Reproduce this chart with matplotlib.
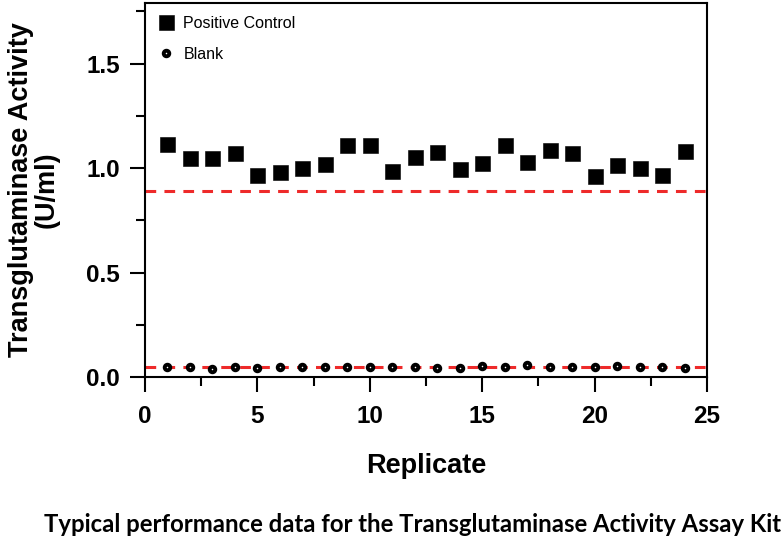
import matplotlib
matplotlib.use("Agg")
import matplotlib.pyplot as plt
from matplotlib.ticker import MultipleLocator

replicates = list(range(1, 25))
positive_control = [1.113, 1.047, 1.050, 1.071, 0.965, 0.983, 1.002, 1.020,
                    1.111, 1.111, 0.985, 1.052, 1.077, 0.994, 1.024, 1.111,
                    1.029, 1.085, 1.070, 0.962, 1.017, 0.998, 0.965, 1.082]
blank = [0.047, 0.047, 0.040, 0.047, 0.043, 0.047, 0.050, 0.050,
         0.047, 0.050, 0.047, 0.050, 0.043, 0.043, 0.053, 0.047,
         0.056, 0.047, 0.050, 0.050, 0.053, 0.047, 0.047, 0.043]
thresholds = [0.89, 0.05]
y_ticks = [0.0, 0.5, 1.0, 1.5]
x_ticks = [0, 5, 10, 15, 20, 25]

plt.rcParams['font.family'] = ['Liberation Sans', 'DejaVu Sans']

fig = plt.figure(figsize=(7.84, 5.40), dpi=100)
ax = fig.add_axes([145/784, 1 - 377/540, (707-145)/784, (377-3)/540])

for t in thresholds:
    ax.axhline(t, color='#EE2A2A', lw=2.2, linestyle=(0, (3.5, 2.7)),
               dash_capstyle='butt', zorder=2)

ax.plot(replicates, positive_control, linestyle='none', marker='s', ms=10.8,
        mfc='black', mec='black', mew=0.4, label='Positive Control', zorder=3)
ax.plot(replicates, blank, linestyle='none', marker='o', ms=4.0,
        mfc='white', mec='black', mew=2.8, label='Blank', zorder=4)

ax.set_xlim(0, 25)
ax.set_ylim(0, 1.79)
ax.set_xticks(x_ticks)
ax.set_yticks(y_ticks)
ax.set_yticklabels(['%.1f' % v for v in y_ticks])
ax.xaxis.set_minor_locator(MultipleLocator(2.5))
ax.yaxis.set_minor_locator(MultipleLocator(0.25))

for s in ax.spines.values():
    s.set_linewidth(1.5)
ax.tick_params(which='major', direction='out', length=11, width=1.5,
               labelsize=17.5)
ax.tick_params(axis='y', which='major', pad=7)
ax.tick_params(axis='x', which='major', pad=9)
ax.tick_params(which='minor', direction='out', length=6.5, width=1.5)
for lab in ax.get_xticklabels() + ax.get_yticklabels():
    lab.set_fontweight('bold')

ax.set_xlabel('Replicate', fontsize=19.5, fontweight='bold', labelpad=18)
ax.set_ylabel('Transglutaminase Activity\n(U/ml)', fontsize=19.5,
              fontweight='bold', labelpad=19, linespacing=1.0)

leg = ax.legend(loc='upper left', frameon=False, fontsize=11.5,
                handletextpad=0.6, labelspacing=1.0, borderaxespad=0.4,
                handlelength=1.0)

fig.text(413/784, 1 - 525/540,
         'Typical performance data for the Transglutaminase Activity Assay Kit',
         ha='center', va='center', fontsize=17.2, fontweight='bold',
         family=['Lato', 'DejaVu Sans'])

fig.savefig('out.png', dpi=100)
